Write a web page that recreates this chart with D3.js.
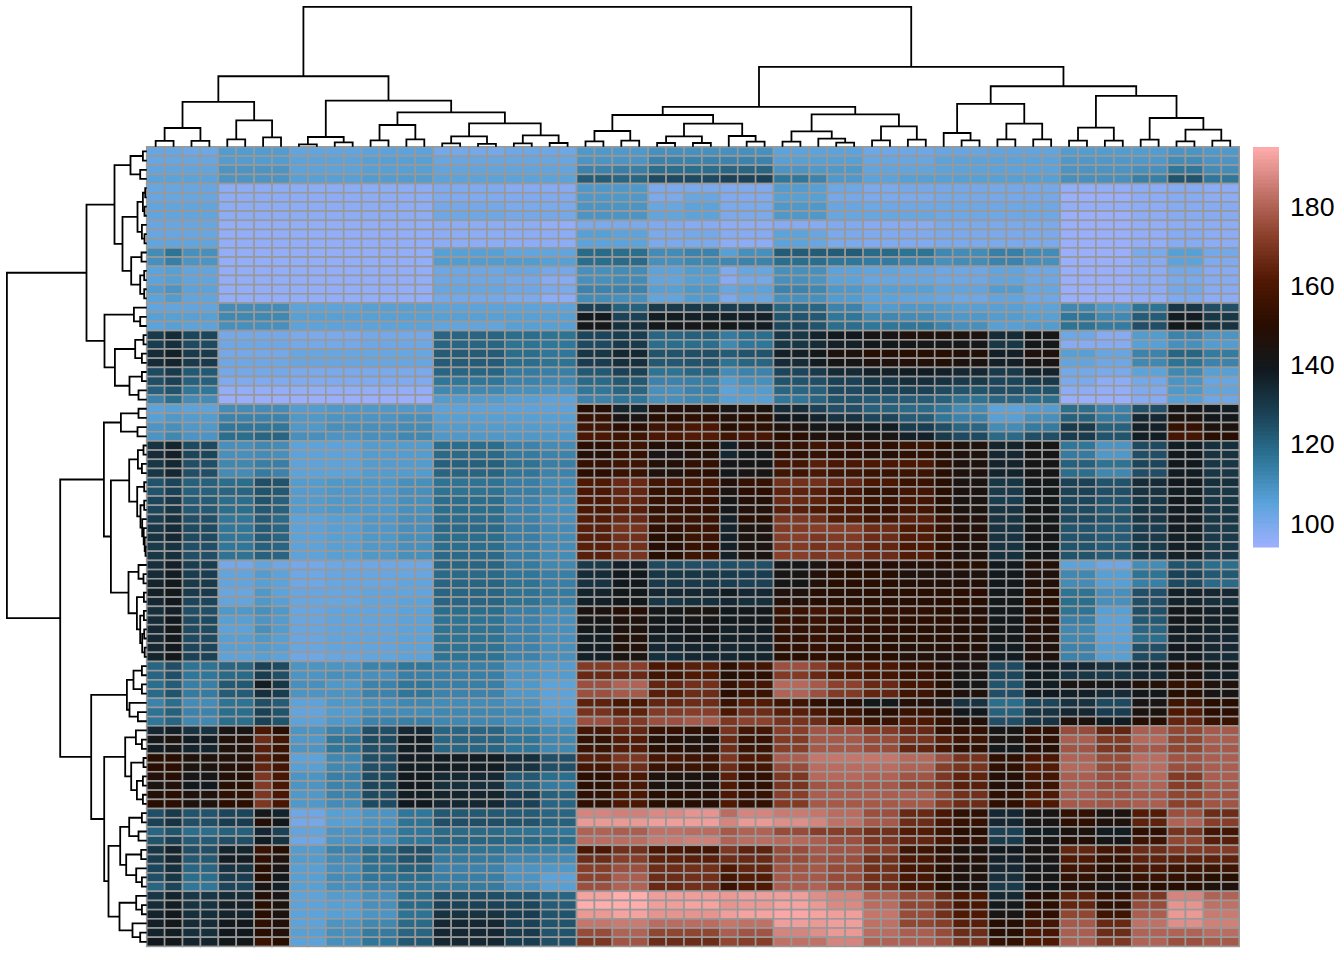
<!DOCTYPE html>
<html><head><meta charset="utf-8">
<script src="https://cdnjs.cloudflare.com/ajax/libs/d3/7.8.5/d3.min.js"></script>
<style>html,body{margin:0;padding:0;background:#fff}svg{display:block}</style>
</head><body><svg id="c" width="1344" height="960"></svg>
<script>
// Columns that read as one shade in the picture share a value column in rowValues.
const columnGroup=[0,1,2,2,3,3,4,5,6,6,7,7,8,8,9,9,10,10,10,10,11,11,12,12,13,13,14,14,15,15,16,16,17,18,18,19,19,20,21,21,22,22,23,23,24,25,25,26,26,27,27,28,28,29,29,30,30,31,31,32,32];
const rowValues=[
[103,103,102,107,107,107,104,104,105,105,101,102,102,108,108,110,110,110,110,105,105,105,102,102,103,103,104,104,107,107,107,109,108],
[103,103,103,107,107,107,105,105,106,106,103,103,103,109,109,113,113,113,113,106,106,106,103,103,105,105,105,105,108,108,108,111,109],
[104,104,104,109,109,109,105,105,106,106,104,104,104,113,114,118,118,120,120,109,108,108,104,104,105,105,105,105,109,109,110,116,111],
[105,105,105,109,109,109,106,106,107,107,105,105,105,122,120,126,126,128,128,116,113,108,105,106,106,106,106,106,110,110,114,124,116],
[103,103,103,97,97,97,97,97,97,97,99,98,98,108,108,100,100,99,99,107,106,102,100,101,101,101,101,101,96,96,97,98,97],
[103,103,103,97,97,97,97,97,97,97,99,99,99,108,108,100,103,99,99,106,106,101,100,100,101,101,101,101,95,95,97,98,97],
[104,104,104,97,97,97,97,97,97,97,101,100,100,109,109,103,105,100,100,108,108,103,102,102,102,102,102,102,96,96,97,98,98],
[104,104,104,97,97,97,97,97,97,97,102,101,101,109,109,104,105,100,100,108,108,103,103,103,102,102,102,102,95,95,97,98,98],
[103,103,103,96,96,96,96,96,96,96,97,97,96,100,100,99,98,97,97,98,98,99,98,98,100,100,100,100,95,95,96,97,97],
[103,103,103,96,96,96,96,96,96,96,97,97,97,106,105,100,101,98,98,105,103,100,99,99,100,100,100,100,95,95,96,98,97],
[104,104,104,96,96,96,96,96,96,96,97,97,97,105,105,100,100,97,97,105,103,100,99,99,100,100,100,100,95,95,96,98,97],
[111,117,110,96,96,96,96,96,96,96,106,104,104,119,118,111,113,106,110,122,122,122,119,117,112,111,114,111,95,95,100,106,101],
[110,114,109,96,96,96,96,96,96,96,107,107,106,118,119,110,112,112,113,118,118,116,115,113,110,111,113,110,95,95,98,105,99],
[105,106,104,96,96,96,96,96,96,96,102,103,101,110,111,105,107,99,103,110,110,105,104,103,102,102,104,102,95,95,97,101,98],
[105,106,104,96,96,96,96,96,96,96,102,101,98,110,111,104,106,98,101,110,109,105,103,103,102,102,104,102,95,95,97,100,98],
[107,109,105,96,96,96,96,96,96,96,103,102,100,113,113,106,108,103,105,113,112,108,106,106,104,104,107,103,95,95,97,101,98],
[105,107,104,96,96,96,96,96,96,96,101,100,97,111,110,104,107,100,103,110,110,107,105,104,103,102,104,102,95,95,96,99,97],
[104,104,104,111,111,111,105,105,106,106,105,105,105,128,121,130,130,129,129,120,120,113,107,108,107,106,106,105,112,108,117,131,125],
[106,106,106,112,112,112,106,106,106,106,106,106,106,139,128,138,137,137,137,124,123,116,112,111,109,108,107,106,116,112,122,138,131],
[105,106,105,110,110,110,105,105,105,105,104,106,106,141,133,140,141,140,138,127,124,118,116,116,113,110,106,107,117,115,125,140,132],
[130,134,127,101,101,101,100,100,101,101,120,118,117,127,129,120,121,115,118,131,136,139,143,146,146,145,134,141,102,98,107,113,109],
[129,133,126,102,102,102,101,101,102,102,120,117,116,126,130,118,118,112,116,131,134,137,140,141,141,141,131,140,98,98,106,110,107],
[134,137,130,101,101,101,103,103,103,103,122,118,116,131,135,124,125,122,124,137,140,146,149,150,150,148,137,146,106,103,113,120,115],
[134,136,130,102,102,102,103,103,103,103,122,118,117,129,133,123,124,117,120,134,138,142,146,147,148,145,137,143,104,102,112,117,113],
[126,130,123,101,101,101,100,100,100,100,120,115,114,123,128,117,120,111,113,127,130,134,137,138,137,135,130,136,101,100,105,112,106],
[125,128,121,99,99,99,99,99,99,99,116,113,112,119,123,113,114,107,110,124,125,128,131,133,132,130,127,130,100,97,101,109,103],
[121,124,116,96,96,96,96,96,96,96,112,110,109,116,120,110,113,105,107,120,121,126,127,128,126,124,125,124,97,96,99,108,104],
[113,118,111,95,95,95,95,95,95,95,107,106,105,113,116,110,112,106,106,116,120,124,122,122,121,117,120,118,95,95,98,106,102],
[105,106,105,111,111,111,107,108,108,108,105,105,105,149,136,147,147,143,145,134,128,125,121,119,116,111,105,107,118,113,125,141,138],
[106,108,107,113,113,113,108,109,109,110,106,106,106,154,143,150,152,147,150,139,136,132,127,122,116,113,106,110,121,115,135,145,140],
[109,110,108,116,116,116,108,110,110,111,107,107,107,157,151,157,160,150,152,146,141,141,138,129,125,120,111,115,130,121,137,154,145],
[109,112,109,118,120,120,110,109,110,112,108,108,108,160,156,160,162,157,159,150,146,145,143,137,130,126,119,125,130,124,138,158,150],
[132,136,126,110,112,111,105,105,107,107,118,113,111,151,156,148,150,137,147,154,157,154,152,155,150,146,136,142,116,109,126,138,133],
[134,137,127,110,111,110,105,105,107,107,119,115,113,148,154,143,147,135,140,152,154,151,148,152,148,146,135,142,115,108,125,139,132],
[131,135,125,112,114,114,105,105,107,107,121,117,114,154,157,147,153,141,142,158,163,160,160,160,152,146,136,142,121,117,127,139,131],
[131,135,125,111,115,113,105,105,107,107,120,116,113,151,155,146,151,140,143,157,160,157,155,156,150,146,136,142,118,112,125,138,131],
[124,127,121,118,125,124,107,108,108,110,117,114,111,161,166,158,158,147,154,168,168,165,160,155,150,144,131,140,128,124,134,139,133],
[124,128,121,120,124,123,107,108,108,110,117,114,112,160,165,154,155,144,151,164,163,158,153,158,150,145,130,140,128,125,132,138,131],
[127,130,122,118,124,121,107,108,108,110,118,113,110,160,165,154,154,142,148,166,164,160,155,158,150,144,129,140,127,124,131,139,131],
[127,131,123,118,123,121,107,108,108,110,118,113,110,160,163,153,153,141,147,163,161,159,154,158,150,145,132,141,126,123,131,138,131],
[129,133,125,116,122,119,105,106,108,110,118,113,110,162,166,155,155,137,150,170,168,162,158,163,155,147,132,140,126,124,131,138,131],
[131,134,126,116,122,120,105,106,108,110,119,114,111,163,169,152,155,136,145,171,172,172,167,161,154,147,132,141,124,122,129,138,130],
[132,135,126,116,122,120,105,106,108,110,118,114,111,163,168,150,156,137,145,172,170,171,167,162,154,147,132,141,124,122,130,137,130],
[130,132,125,116,121,120,105,106,108,110,118,114,111,163,168,149,154,137,144,171,169,170,165,160,153,146,132,140,124,122,130,137,130],
[131,133,125,117,121,120,105,106,108,110,119,114,111,163,169,150,156,137,145,172,170,171,167,162,152,146,133,141,124,122,130,137,130],
[133,137,129,101,104,102,101,102,102,102,120,115,112,130,137,126,125,125,125,141,144,149,149,148,149,150,139,148,105,102,111,124,118],
[134,138,129,104,107,105,102,103,103,103,119,116,114,134,139,131,131,130,129,143,147,150,150,146,146,146,139,146,112,106,117,128,123],
[136,139,130,104,106,105,102,103,103,104,120,117,114,132,139,130,130,129,128,142,147,150,150,148,148,148,140,147,111,106,114,126,119],
[137,140,130,103,108,105,103,103,104,104,120,117,115,136,140,135,135,138,135,146,150,150,150,150,150,151,140,150,117,110,125,137,135],
[135,139,127,104,108,106,103,103,104,105,120,117,114,137,140,131,133,135,133,147,150,150,150,150,150,150,140,150,118,110,125,136,133],
[133,137,125,108,110,108,103,104,104,105,118,114,111,145,149,141,144,139,140,155,158,156,153,152,151,148,140,148,117,106,125,140,137],
[134,139,126,106,109,107,103,104,104,105,117,113,110,142,146,140,142,139,140,153,155,152,152,151,151,149,140,149,114,105,123,140,137],
[135,140,126,105,110,107,103,104,104,105,117,113,110,140,146,139,141,137,138,153,154,153,152,150,150,148,140,147,112,105,120,138,136],
[135,139,126,106,108,106,103,104,104,105,117,113,110,138,147,137,139,137,137,152,154,152,150,150,150,148,140,147,112,105,118,137,135],
[135,139,127,106,107,106,103,104,104,105,117,113,110,138,147,135,136,135,136,152,154,152,150,148,148,148,138,146,113,106,125,139,135],
[136,140,128,105,106,105,102,103,104,105,117,113,110,137,144,133,135,135,136,150,152,150,150,147,146,146,138,146,113,106,126,138,134],
[120,125,117,120,128,126,109,109,113,116,114,109,107,171,172,160,163,152,158,176,172,164,160,154,148,144,126,139,135,132,136,147,140],
[120,125,116,119,129,125,109,110,110,114,114,109,107,166,166,157,161,148,151,171,166,160,158,154,150,143,127,138,131,130,134,145,137],
[118,122,114,123,138,131,110,108,113,116,114,108,105,176,180,165,168,154,158,181,178,173,166,158,150,142,124,138,143,141,147,153,146],
[119,124,115,122,133,129,109,109,113,116,113,108,105,176,178,163,167,151,155,180,176,171,165,157,150,146,125,139,137,134,140,150,143],
[113,118,111,117,125,122,105,108,110,112,111,109,105,164,159,165,167,155,162,157,152,149,140,147,143,132,118,127,132,126,143,157,150],
[117,121,113,118,128,124,104,107,111,111,112,111,106,169,164,171,172,160,167,163,160,156,150,155,150,139,121,132,135,129,145,161,151],
[116,120,112,118,128,124,105,108,113,114,112,110,108,176,171,176,178,170,173,169,167,161,155,161,154,147,125,132,146,138,150,165,155],
[135,137,132,143,160,151,109,113,125,135,120,115,111,158,165,154,152,169,158,172,177,176,171,166,154,153,142,152,175,165,179,174,178],
[141,145,138,147,167,158,108,116,126,138,120,116,112,153,162,148,146,166,154,171,178,178,175,169,163,157,144,152,179,171,181,174,179],
[138,141,136,146,163,155,109,116,125,138,120,116,112,155,162,150,147,167,155,172,178,178,175,165,159,152,140,148,177,170,178,174,178],
[150,150,146,147,163,155,105,112,125,138,138,133,125,163,170,159,157,170,161,179,184,184,184,181,176,169,152,160,180,175,182,177,179],
[150,151,145,148,165,158,106,112,125,138,138,132,125,158,167,155,156,167,158,175,182,182,182,180,172,169,152,162,181,175,182,176,179],
[147,149,142,148,170,159,109,114,126,139,135,123,118,151,159,146,145,163,152,170,181,181,180,177,170,164,148,158,179,176,181,171,179],
[144,147,139,150,171,160,109,113,127,139,133,120,115,151,159,145,145,161,152,169,177,178,178,174,170,163,148,156,179,176,180,172,178],
[148,150,146,152,170,160,108,113,126,138,136,129,121,152,160,150,149,160,154,172,179,179,179,179,174,168,152,161,179,177,178,174,177],
[150,151,145,151,170,159,108,111,126,139,135,128,120,152,160,150,149,161,153,171,178,178,178,178,172,167,152,161,178,177,179,173,177],
[125,130,124,127,141,136,102,106,109,116,123,122,120,187,186,188,190,182,187,185,184,182,176,166,159,152,135,143,153,145,162,176,167],
[128,132,125,129,148,140,101,106,109,117,125,124,121,191,191,192,192,187,191,189,187,183,178,167,159,154,135,143,152,146,164,180,172],
[120,124,118,121,135,128,104,109,111,116,119,117,116,180,179,183,182,178,180,175,172,172,168,162,156,150,128,138,145,138,152,169,158],
[124,128,122,125,138,132,102,109,110,116,120,119,118,182,182,185,186,180,182,181,179,176,170,165,159,153,130,142,148,142,157,174,163],
[131,136,125,136,155,150,107,113,119,125,117,115,114,160,168,160,158,170,164,175,178,177,173,157,152,145,139,144,165,158,167,171,171],
[129,135,123,138,152,146,107,111,118,124,115,112,111,167,172,164,163,167,166,175,177,176,168,160,153,148,137,143,161,154,164,164,164],
[127,133,120,132,150,143,106,110,117,121,113,109,108,172,176,167,168,161,165,177,178,175,168,158,150,146,135,141,157,150,159,156,156],
[125,131,118,129,150,140,106,111,116,118,114,109,105,173,179,167,168,158,162,178,178,175,168,159,150,146,133,142,153,147,155,153,150],
[120,127,116,127,143,137,106,110,113,116,115,110,106,176,180,166,168,155,161,179,180,176,169,159,150,145,130,140,147,143,150,150,146],
[131,136,131,134,148,143,105,107,110,118,125,124,120,193,195,192,192,191,192,192,189,187,180,175,167,160,135,149,164,154,170,187,180],
[134,138,132,137,150,145,105,106,110,119,128,127,122,195,195,192,193,190,191,193,191,188,182,174,168,159,140,151,165,152,175,190,183],
[136,139,133,136,150,145,105,106,109,117,132,129,124,191,193,190,190,192,193,194,193,192,184,175,168,161,143,152,174,157,179,191,185],
[137,140,134,139,152,147,105,109,112,119,135,128,124,184,185,182,182,184,183,192,191,192,183,174,172,163,149,158,178,166,183,189,186],
[136,138,133,139,150,147,106,110,115,120,135,130,124,175,180,174,174,179,177,187,189,191,182,179,175,167,150,159,179,167,180,180,182],
[139,140,136,140,155,150,105,110,116,123,135,129,125,170,177,167,167,174,172,183,183,187,180,179,176,169,153,161,179,170,180,176,178]
];
// Dendrograms: [height, leftChild, rightChild]; a bare number is a leaf index.
const columnTree=[139.8,
 [70.5,
  [44.8,[18.8,[6,0,1],[6,2,3]],[26.5,[7.5,4,5],[9.5,6,7]]],
  [46.2,[9.8,[2.5,8,9],[4.5,10,11]],
   [34.5,[21.8,[6.5,12,13],[7.5,14,15]],
    [23.5,[10.5,[3.5,16,17],[3,18,19]],[11.5,[3.5,20,21],[3.8,22,23]]]]]],
 [79.8,
  [39.8,
   [31.8,[15.8,[5.5,24,25],[6.2,26,27]],
    [23.2,[10.5,[3.8,28,29],[3.8,30,31]],[10.8,32,[5.2,33,34]]]],
   [32.5,[15.5,[5.2,35,36],[8.2,37,[4.2,38,39]]],[20.5,[6.5,40,41],[7.2,42,43]]]],
  [60.5,
   [42.8,[13.8,44,[6.5,45,46]],[23.2,[7.5,47,48],[7.5,49,50]]],
   [50.8,[19.2,[6.2,51,52],[6.2,53,54]],
    [28.8,[7.2,55,56],[17.2,[5.5,57,58],[6.2,59,60]]]]]]];
const rowTree=[139.8,
 [60.2,
  [32.2,[16.2,[3.8,0,1],[6.5,2,3]],
   [24.2,[9.2,[3.8,[1.5,4,5],[2.2,6,7]],[4.8,8,[2.2,9,10]]],
    [15.5,[5.2,11,12],[6.5,[2.5,13,14],[2.5,15,16]]]]],
  [42.2,[12.8,17,[6.5,18,19]],
   [31.8,[11.5,[3.2,20,21],[4.8,22,23]],[17.2,[4.8,24,25],[8.2,26,27]]]]],
 [86.5,
  [42.8,[25.8,[8.2,28,29],[9.2,30,31]],
   [35.8,
    [17.5,[8.8,[3.2,32,33],[4.8,34,35]],
     [9.5,[2.5,36,37],[6.2,[2.5,38,39],[4.5,40,[3,41,[2,42,[1.2,43,44]]]]]]],
    [18.2,[8.2,45,[3.2,46,47]],
     [9.8,[2.8,48,49],[6.5,[2.8,50,51],[4.5,[2.5,52,53],[2,54,55]]]]]]],
  [55.5,
   [19.8,[13.2,[4.8,56,57],[4.8,58,59]],[17.2,60,[8.8,61,62]]],
   [42.5,
    [21.5,[10.8,63,[4.8,64,65]],[15.5,[3.2,66,67],[9.8,[3.8,68,69],[3.8,70,71]]]],
    [38.2,
     [26.5,[17.5,[4.8,72,73],[8.2,74,75]],[20.5,[5.5,76,77],[10.5,78,[4.8,79,80]]]],
     [27.2,[10.5,81,[4.8,82,83]],[14.2,84,[6.5,85,86]]]]]]]];
const paletteColors=["#9EB0FF","#5AA3DA","#2D7597","#1A4256","#11191E","#280D01","#501803","#8A3F2A","#C4756A","#FFADAD"];
const valueMin=94.1, valueMax=195;
const legendTicks=[100,120,140,160,180];

const svg=d3.select("#c");
const nRows=rowValues.length, nCols=columnGroup.length;
const L=146.7,R=1239.2,T=146.8,B=946.4;
const x=d3.scaleLinear().domain([0,nCols]).range([L,R]);
const y=d3.scaleLinear().domain([0,nRows]).range([T,B]);
const heightTop=d3.scaleLinear().domain([0,139.8]).range([T,6.9]);
const heightLeft=d3.scaleLinear().domain([0,139.8]).range([L,6.9]);
const color=d3.scaleLinear()
  .domain(paletteColors.map((_,i)=>valueMin+(valueMax-valueMin)*i/(paletteColors.length-1)))
  .range(paletteColors).interpolate(d3.interpolateRgb);

// heatmap cells
const cells=[];
rowValues.forEach((vals,r)=>columnGroup.forEach((g,c)=>cells.push({r,c,v:vals[g]})));
svg.append("g").selectAll("rect").data(cells).join("rect")
 .attr("x",d=>x(d.c)).attr("y",d=>y(d.r))
 .attr("width",x(1)-x(0)).attr("height",y(1)-y(0))
 .attr("fill",d=>color(d.v)).attr("stroke","#999999").attr("stroke-width",1.6);

// dendrograms
function walk(node,emit){
  if(typeof node==="number") return {pos:node+0.5,h:0};
  const a=walk(node[1],emit), b=walk(node[2],emit), h=node[0];
  emit(a,b,h);
  return {pos:(a.pos+b.pos)/2,h};
}
const topLines=[],leftLines=[];
walk(columnTree,(a,b,h)=>topLines.push({a,b,h}));
walk(rowTree,(a,b,h)=>leftLines.push({a,b,h}));
const linePath=d3.line();
svg.append("g").selectAll("path").data(topLines).join("path")
 .attr("d",d=>linePath([[x(d.a.pos),heightTop(d.a.h)],[x(d.a.pos),heightTop(d.h)],[x(d.b.pos),heightTop(d.h)],[x(d.b.pos),heightTop(d.b.h)]]))
 .attr("fill","none").attr("stroke","#000").attr("stroke-width",1.8);
svg.append("g").selectAll("path").data(leftLines).join("path")
 .attr("d",d=>linePath([[heightLeft(d.a.h),y(d.a.pos)],[heightLeft(d.h),y(d.a.pos)],[heightLeft(d.h),y(d.b.pos)],[heightLeft(d.b.h),y(d.b.pos)]]))
 .attr("fill","none").attr("stroke","#000").attr("stroke-width",1.8);

// colour legend
const legendY=d3.scaleLinear().domain([valueMin,valueMax]).range([547,147]);
const steps=d3.range(100);
const stepV=i=>valueMin+(valueMax-valueMin)*i/100;
svg.append("g").selectAll("rect").data(steps).join("rect")
 .attr("x",1253).attr("width",26)
 .attr("y",i=>legendY(stepV(i+1))).attr("height",i=>legendY(stepV(i))-legendY(stepV(i+1))+0.5)
 .attr("fill",i=>color(stepV(i+0.5)));
const axis=d3.axisRight(legendY).tickValues(legendTicks).tickSize(0).tickPadding(0);
const ax=svg.append("g").attr("transform","translate(1290,0)").call(axis);
ax.select(".domain").remove();
ax.selectAll("text").attr("font-family","'Liberation Sans',Arial,sans-serif").attr("font-size",26.67).attr("fill","#000").attr("dy","0.32em");
</script></body></html>
